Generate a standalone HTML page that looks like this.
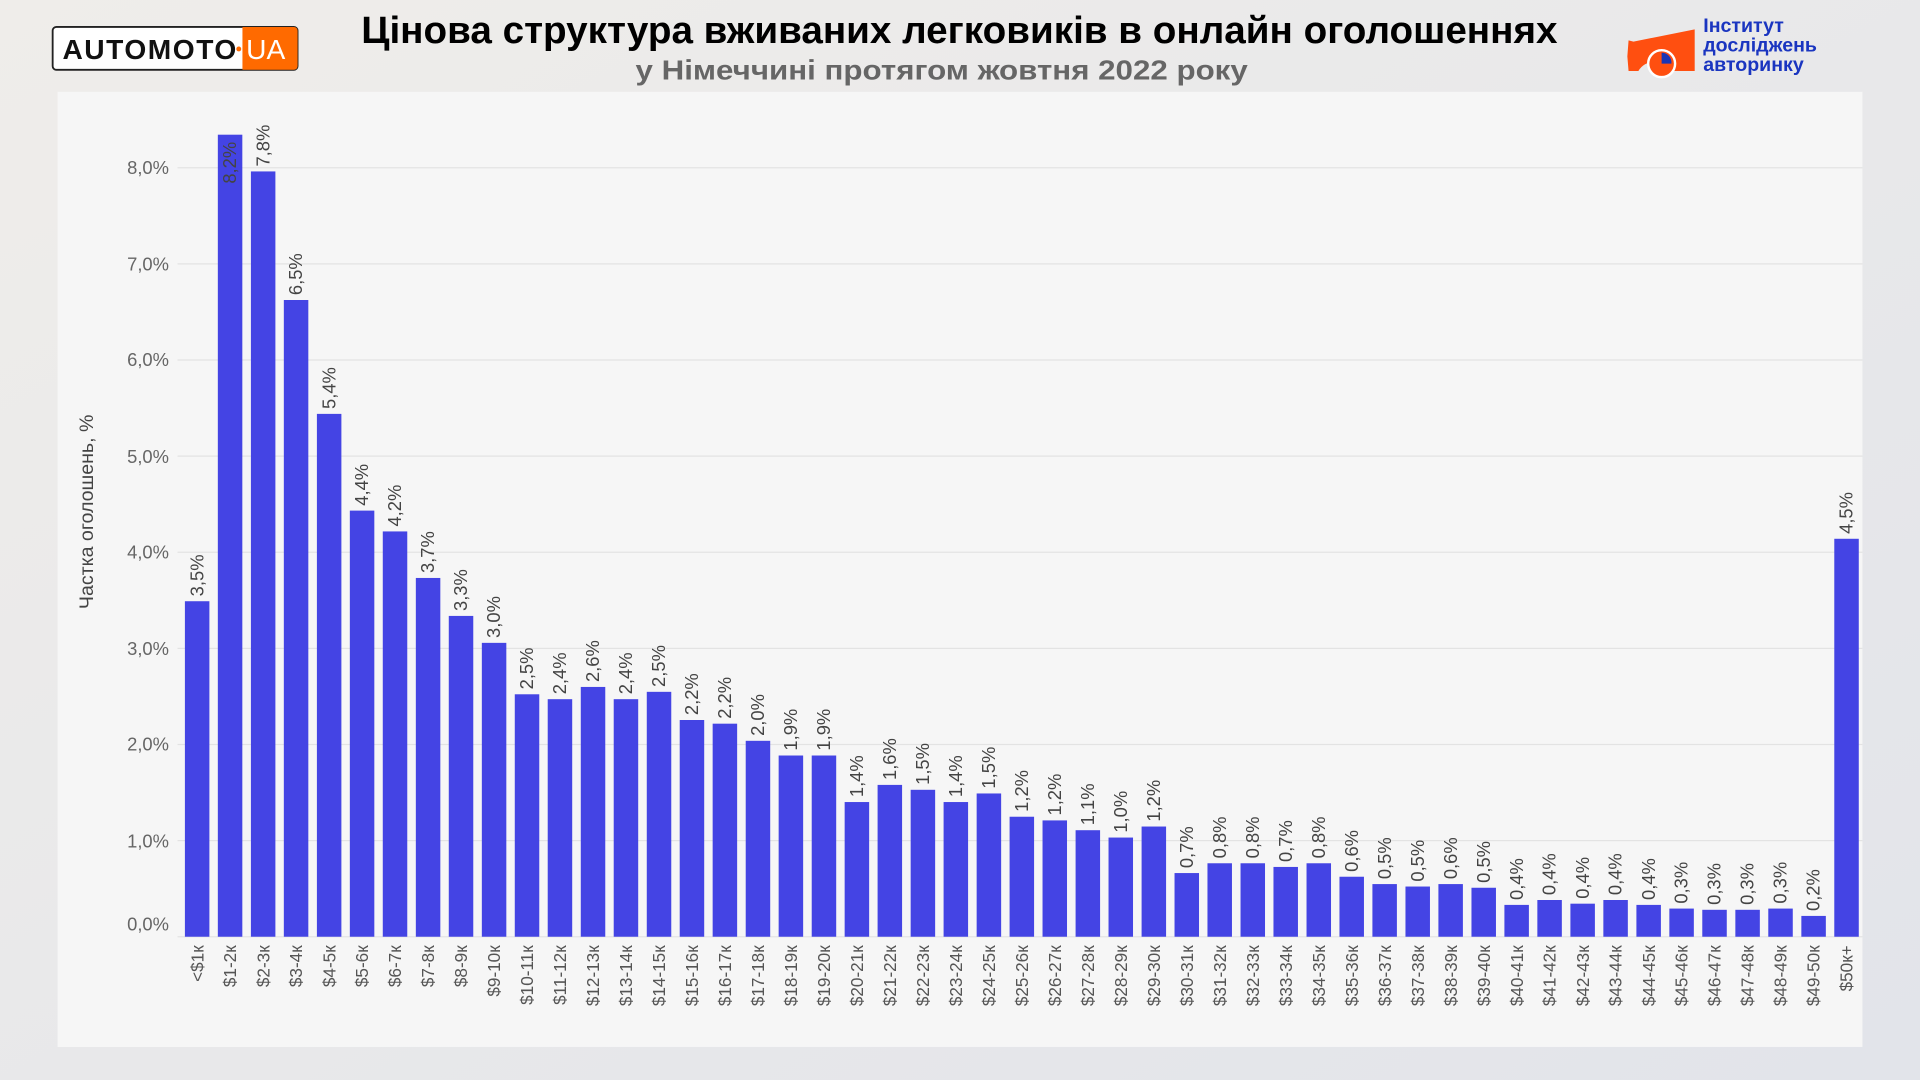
<!DOCTYPE html>
<html><head><meta charset="utf-8"><style>
html,body{margin:0;padding:0;width:1920px;height:1080px;overflow:hidden;background:#ecebe8}
svg{display:block}
.v{font:15px "Liberation Sans","DejaVu Sans",sans-serif;fill:#444}
.x{font:14px "Liberation Sans","DejaVu Sans",sans-serif;fill:#555}
.y{font:15px "Liberation Sans","DejaVu Sans",sans-serif;fill:#666}
rect.b{fill:#4444e4}
</style></head><body>
<svg width="1920" height="1080" viewBox="0 0 1568 882" xmlns="http://www.w3.org/2000/svg">
<defs><linearGradient id="bg" x1="0" y1="0" x2="1" y2="1"><stop offset="0" stop-color="#efedea"/><stop offset="1" stop-color="#e2e4ea"/></linearGradient></defs>
<rect width="1568" height="882" fill="url(#bg)"/>
<rect x="47" y="75" width="1474" height="780" fill="#f6f6f6"/>
<!-- logo left -->
<rect x="43" y="22" width="200" height="35" rx="3" fill="#fff" stroke="#222" stroke-width="1.5"/>
<path d="M198,22 h42 a3,3 0 0 1 3,3 v29 a3,3 0 0 1 -3,3 h-42z" fill="#ff6a00"/>
<text x="51" y="48" textLength="142" style="font:bold 23px 'Liberation Sans',sans-serif;fill:#111">AUTOMOTO</text>
<circle cx="195" cy="40" r="2" fill="#ff6a00"/>
<text x="201" y="48" style="font:23px 'Liberation Sans',sans-serif;fill:#fff">UA</text>
<!-- logo right -->
<path d="M1330,33 l4,1 l20,-4 l30,-6 v34 h-20 a15,15 0 0 0 -26,0 h-8 l-1,-12z" fill="#ff4f10"/>
<circle cx="1357" cy="52" r="11" fill="#ff4f10" stroke="#fff" stroke-width="2"/>
<path d="M1357,43 v9 h8 a8,8 0 0 0 -8,-9z" fill="#1a35b5"/>
<text style="font:bold 16px 'Liberation Sans',sans-serif;fill:#1a35c0"><tspan x="1391" y="26">Інститут</tspan><tspan x="1391" y="42">досліджень</tspan><tspan x="1391" y="58">авторинку</tspan></text>
<!-- titles -->
<text x="295" y="35" textLength="977" lengthAdjust="spacingAndGlyphs" style="font:bold 31px 'Liberation Sans','DejaVu Sans',sans-serif;fill:#000">Цінова структура вживаних легковиків в онлайн оголошеннях</text>
<text x="519" y="65" textLength="500" lengthAdjust="spacingAndGlyphs" style="font:bold 23px 'Liberation Sans','DejaVu Sans',sans-serif;fill:#666">у Німеччині протягом жовтня 2022 року</text>
<!-- grid -->
<g stroke="#e3e3e3" stroke-width="1">
<line x1="145" x2="1521" y1="765" y2="765"/><line x1="145" x2="1521" y1="686.5" y2="686.5"/><line x1="145" x2="1521" y1="608" y2="608"/><line x1="145" x2="1521" y1="529.5" y2="529.5"/><line x1="145" x2="1521" y1="451" y2="451"/><line x1="145" x2="1521" y1="372.5" y2="372.5"/><line x1="145" x2="1521" y1="294" y2="294"/><line x1="145" x2="1521" y1="215.5" y2="215.5"/><line x1="145" x2="1521" y1="137" y2="137"/>
</g>
<g class="y" text-anchor="end">
<text x="138" y="760" class="y">0,0%</text><text x="138" y="692" class="y">1,0%</text><text x="138" y="613" class="y">2,0%</text><text x="138" y="535" class="y">3,0%</text><text x="138" y="456" class="y">4,0%</text><text x="138" y="378" class="y">5,0%</text><text x="138" y="299" class="y">6,0%</text><text x="138" y="221" class="y">7,0%</text><text x="138" y="142" class="y">8,0%</text>
</g>
<text transform="translate(76,418) rotate(-90)" text-anchor="middle" style="font:16px 'Liberation Sans','DejaVu Sans',sans-serif;fill:#444">Частка оголошень, %</text>

<g transform="translate(161,0)"><rect class="b" x="-10" y="491" width="20" height="274"/><text class="v" transform="translate(5,487) rotate(-90)">3,5%</text><text class="x" text-anchor="end" transform="translate(5,772) rotate(-90)">&lt;$1к</text></g>
<g transform="translate(187.9,0)"><rect class="b" x="-10" y="110" width="20" height="655"/><text class="v" transform="translate(5,150) rotate(-90)">8,2%</text><text class="x" text-anchor="end" transform="translate(5,772) rotate(-90)">$1-2к</text></g>
<g transform="translate(214.9,0)"><rect class="b" x="-10" y="140" width="20" height="625"/><text class="v" transform="translate(5,136) rotate(-90)">7,8%</text><text class="x" text-anchor="end" transform="translate(5,772) rotate(-90)">$2-3к</text></g>
<g transform="translate(241.8,0)"><rect class="b" x="-10" y="245" width="20" height="520"/><text class="v" transform="translate(5,241) rotate(-90)">6,5%</text><text class="x" text-anchor="end" transform="translate(5,772) rotate(-90)">$3-4к</text></g>
<g transform="translate(268.8,0)"><rect class="b" x="-10" y="338" width="20" height="427"/><text class="v" transform="translate(5,334) rotate(-90)">5,4%</text><text class="x" text-anchor="end" transform="translate(5,772) rotate(-90)">$4-5к</text></g>
<g transform="translate(295.7,0)"><rect class="b" x="-10" y="417" width="20" height="348"/><text class="v" transform="translate(5,413) rotate(-90)">4,4%</text><text class="x" text-anchor="end" transform="translate(5,772) rotate(-90)">$5-6к</text></g>
<g transform="translate(322.6,0)"><rect class="b" x="-10" y="434" width="20" height="331"/><text class="v" transform="translate(5,430) rotate(-90)">4,2%</text><text class="x" text-anchor="end" transform="translate(5,772) rotate(-90)">$6-7к</text></g>
<g transform="translate(349.6,0)"><rect class="b" x="-10" y="472" width="20" height="293"/><text class="v" transform="translate(5,468) rotate(-90)">3,7%</text><text class="x" text-anchor="end" transform="translate(5,772) rotate(-90)">$7-8к</text></g>
<g transform="translate(376.5,0)"><rect class="b" x="-10" y="503" width="20" height="262"/><text class="v" transform="translate(5,499) rotate(-90)">3,3%</text><text class="x" text-anchor="end" transform="translate(5,772) rotate(-90)">$8-9к</text></g>
<g transform="translate(403.5,0)"><rect class="b" x="-10" y="525" width="20" height="240"/><text class="v" transform="translate(5,521) rotate(-90)">3,0%</text><text class="x" text-anchor="end" transform="translate(5,772) rotate(-90)">$9-10к</text></g>
<g transform="translate(430.4,0)"><rect class="b" x="-10" y="567" width="20" height="198"/><text class="v" transform="translate(5,563) rotate(-90)">2,5%</text><text class="x" text-anchor="end" transform="translate(5,772) rotate(-90)">$10-11к</text></g>
<g transform="translate(457.3,0)"><rect class="b" x="-10" y="571" width="20" height="194"/><text class="v" transform="translate(5,567) rotate(-90)">2,4%</text><text class="x" text-anchor="end" transform="translate(5,772) rotate(-90)">$11-12к</text></g>
<g transform="translate(484.3,0)"><rect class="b" x="-10" y="561" width="20" height="204"/><text class="v" transform="translate(5,557) rotate(-90)">2,6%</text><text class="x" text-anchor="end" transform="translate(5,772) rotate(-90)">$12-13к</text></g>
<g transform="translate(511.2,0)"><rect class="b" x="-10" y="571" width="20" height="194"/><text class="v" transform="translate(5,567) rotate(-90)">2,4%</text><text class="x" text-anchor="end" transform="translate(5,772) rotate(-90)">$13-14к</text></g>
<g transform="translate(538.2,0)"><rect class="b" x="-10" y="565" width="20" height="200"/><text class="v" transform="translate(5,561) rotate(-90)">2,5%</text><text class="x" text-anchor="end" transform="translate(5,772) rotate(-90)">$14-15к</text></g>
<g transform="translate(565.1,0)"><rect class="b" x="-10" y="588" width="20" height="177"/><text class="v" transform="translate(5,584) rotate(-90)">2,2%</text><text class="x" text-anchor="end" transform="translate(5,772) rotate(-90)">$15-16к</text></g>
<g transform="translate(592,0)"><rect class="b" x="-10" y="591" width="20" height="174"/><text class="v" transform="translate(5,587) rotate(-90)">2,2%</text><text class="x" text-anchor="end" transform="translate(5,772) rotate(-90)">$16-17к</text></g>
<g transform="translate(619,0)"><rect class="b" x="-10" y="605" width="20" height="160"/><text class="v" transform="translate(5,601) rotate(-90)">2,0%</text><text class="x" text-anchor="end" transform="translate(5,772) rotate(-90)">$17-18к</text></g>
<g transform="translate(645.9,0)"><rect class="b" x="-10" y="617" width="20" height="148"/><text class="v" transform="translate(5,613) rotate(-90)">1,9%</text><text class="x" text-anchor="end" transform="translate(5,772) rotate(-90)">$18-19к</text></g>
<g transform="translate(672.9,0)"><rect class="b" x="-10" y="617" width="20" height="148"/><text class="v" transform="translate(5,613) rotate(-90)">1,9%</text><text class="x" text-anchor="end" transform="translate(5,772) rotate(-90)">$19-20к</text></g>
<g transform="translate(699.8,0)"><rect class="b" x="-10" y="655" width="20" height="110"/><text class="v" transform="translate(5,651) rotate(-90)">1,4%</text><text class="x" text-anchor="end" transform="translate(5,772) rotate(-90)">$20-21к</text></g>
<g transform="translate(726.7,0)"><rect class="b" x="-10" y="641" width="20" height="124"/><text class="v" transform="translate(5,637) rotate(-90)">1,6%</text><text class="x" text-anchor="end" transform="translate(5,772) rotate(-90)">$21-22к</text></g>
<g transform="translate(753.7,0)"><rect class="b" x="-10" y="645" width="20" height="120"/><text class="v" transform="translate(5,641) rotate(-90)">1,5%</text><text class="x" text-anchor="end" transform="translate(5,772) rotate(-90)">$22-23к</text></g>
<g transform="translate(780.6,0)"><rect class="b" x="-10" y="655" width="20" height="110"/><text class="v" transform="translate(5,651) rotate(-90)">1,4%</text><text class="x" text-anchor="end" transform="translate(5,772) rotate(-90)">$23-24к</text></g>
<g transform="translate(807.6,0)"><rect class="b" x="-10" y="648" width="20" height="117"/><text class="v" transform="translate(5,644) rotate(-90)">1,5%</text><text class="x" text-anchor="end" transform="translate(5,772) rotate(-90)">$24-25к</text></g>
<g transform="translate(834.5,0)"><rect class="b" x="-10" y="667" width="20" height="98"/><text class="v" transform="translate(5,663) rotate(-90)">1,2%</text><text class="x" text-anchor="end" transform="translate(5,772) rotate(-90)">$25-26к</text></g>
<g transform="translate(861.4,0)"><rect class="b" x="-10" y="670" width="20" height="95"/><text class="v" transform="translate(5,666) rotate(-90)">1,2%</text><text class="x" text-anchor="end" transform="translate(5,772) rotate(-90)">$26-27к</text></g>
<g transform="translate(888.4,0)"><rect class="b" x="-10" y="678" width="20" height="87"/><text class="v" transform="translate(5,674) rotate(-90)">1,1%</text><text class="x" text-anchor="end" transform="translate(5,772) rotate(-90)">$27-28к</text></g>
<g transform="translate(915.3,0)"><rect class="b" x="-10" y="684" width="20" height="81"/><text class="v" transform="translate(5,680) rotate(-90)">1,0%</text><text class="x" text-anchor="end" transform="translate(5,772) rotate(-90)">$28-29к</text></g>
<g transform="translate(942.3,0)"><rect class="b" x="-10" y="675" width="20" height="90"/><text class="v" transform="translate(5,671) rotate(-90)">1,2%</text><text class="x" text-anchor="end" transform="translate(5,772) rotate(-90)">$29-30к</text></g>
<g transform="translate(969.2,0)"><rect class="b" x="-10" y="713" width="20" height="52"/><text class="v" transform="translate(5,709) rotate(-90)">0,7%</text><text class="x" text-anchor="end" transform="translate(5,772) rotate(-90)">$30-31к</text></g>
<g transform="translate(996.1,0)"><rect class="b" x="-10" y="705" width="20" height="60"/><text class="v" transform="translate(5,701) rotate(-90)">0,8%</text><text class="x" text-anchor="end" transform="translate(5,772) rotate(-90)">$31-32к</text></g>
<g transform="translate(1023.1,0)"><rect class="b" x="-10" y="705" width="20" height="60"/><text class="v" transform="translate(5,701) rotate(-90)">0,8%</text><text class="x" text-anchor="end" transform="translate(5,772) rotate(-90)">$32-33к</text></g>
<g transform="translate(1050,0)"><rect class="b" x="-10" y="708" width="20" height="57"/><text class="v" transform="translate(5,704) rotate(-90)">0,7%</text><text class="x" text-anchor="end" transform="translate(5,772) rotate(-90)">$33-34к</text></g>
<g transform="translate(1077,0)"><rect class="b" x="-10" y="705" width="20" height="60"/><text class="v" transform="translate(5,701) rotate(-90)">0,8%</text><text class="x" text-anchor="end" transform="translate(5,772) rotate(-90)">$34-35к</text></g>
<g transform="translate(1103.9,0)"><rect class="b" x="-10" y="716" width="20" height="49"/><text class="v" transform="translate(5,712) rotate(-90)">0,6%</text><text class="x" text-anchor="end" transform="translate(5,772) rotate(-90)">$35-36к</text></g>
<g transform="translate(1130.8,0)"><rect class="b" x="-10" y="722" width="20" height="43"/><text class="v" transform="translate(5,718) rotate(-90)">0,5%</text><text class="x" text-anchor="end" transform="translate(5,772) rotate(-90)">$36-37к</text></g>
<g transform="translate(1157.8,0)"><rect class="b" x="-10" y="724" width="20" height="41"/><text class="v" transform="translate(5,720) rotate(-90)">0,5%</text><text class="x" text-anchor="end" transform="translate(5,772) rotate(-90)">$37-38к</text></g>
<g transform="translate(1184.7,0)"><rect class="b" x="-10" y="722" width="20" height="43"/><text class="v" transform="translate(5,718) rotate(-90)">0,6%</text><text class="x" text-anchor="end" transform="translate(5,772) rotate(-90)">$38-39к</text></g>
<g transform="translate(1211.7,0)"><rect class="b" x="-10" y="725" width="20" height="40"/><text class="v" transform="translate(5,721) rotate(-90)">0,5%</text><text class="x" text-anchor="end" transform="translate(5,772) rotate(-90)">$39-40к</text></g>
<g transform="translate(1238.6,0)"><rect class="b" x="-10" y="739" width="20" height="26"/><text class="v" transform="translate(5,735) rotate(-90)">0,4%</text><text class="x" text-anchor="end" transform="translate(5,772) rotate(-90)">$40-41к</text></g>
<g transform="translate(1265.5,0)"><rect class="b" x="-10" y="735" width="20" height="30"/><text class="v" transform="translate(5,731) rotate(-90)">0,4%</text><text class="x" text-anchor="end" transform="translate(5,772) rotate(-90)">$41-42к</text></g>
<g transform="translate(1292.5,0)"><rect class="b" x="-10" y="738" width="20" height="27"/><text class="v" transform="translate(5,734) rotate(-90)">0,4%</text><text class="x" text-anchor="end" transform="translate(5,772) rotate(-90)">$42-43к</text></g>
<g transform="translate(1319.4,0)"><rect class="b" x="-10" y="735" width="20" height="30"/><text class="v" transform="translate(5,731) rotate(-90)">0,4%</text><text class="x" text-anchor="end" transform="translate(5,772) rotate(-90)">$43-44к</text></g>
<g transform="translate(1346.4,0)"><rect class="b" x="-10" y="739" width="20" height="26"/><text class="v" transform="translate(5,735) rotate(-90)">0,4%</text><text class="x" text-anchor="end" transform="translate(5,772) rotate(-90)">$44-45к</text></g>
<g transform="translate(1373.3,0)"><rect class="b" x="-10" y="742" width="20" height="23"/><text class="v" transform="translate(5,738) rotate(-90)">0,3%</text><text class="x" text-anchor="end" transform="translate(5,772) rotate(-90)">$45-46к</text></g>
<g transform="translate(1400.2,0)"><rect class="b" x="-10" y="743" width="20" height="22"/><text class="v" transform="translate(5,739) rotate(-90)">0,3%</text><text class="x" text-anchor="end" transform="translate(5,772) rotate(-90)">$46-47к</text></g>
<g transform="translate(1427.2,0)"><rect class="b" x="-10" y="743" width="20" height="22"/><text class="v" transform="translate(5,739) rotate(-90)">0,3%</text><text class="x" text-anchor="end" transform="translate(5,772) rotate(-90)">$47-48к</text></g>
<g transform="translate(1454.1,0)"><rect class="b" x="-10" y="742" width="20" height="23"/><text class="v" transform="translate(5,738) rotate(-90)">0,3%</text><text class="x" text-anchor="end" transform="translate(5,772) rotate(-90)">$48-49к</text></g>
<g transform="translate(1481.1,0)"><rect class="b" x="-10" y="748" width="20" height="17"/><text class="v" transform="translate(5,744) rotate(-90)">0,2%</text><text class="x" text-anchor="end" transform="translate(5,772) rotate(-90)">$49-50к</text></g>
<g transform="translate(1508,0)"><rect class="b" x="-10" y="440" width="20" height="325"/><text class="v" transform="translate(5,436) rotate(-90)">4,5%</text><text class="x" text-anchor="end" transform="translate(5,772) rotate(-90)">$50к+</text></g>
</svg>
</body></html>
